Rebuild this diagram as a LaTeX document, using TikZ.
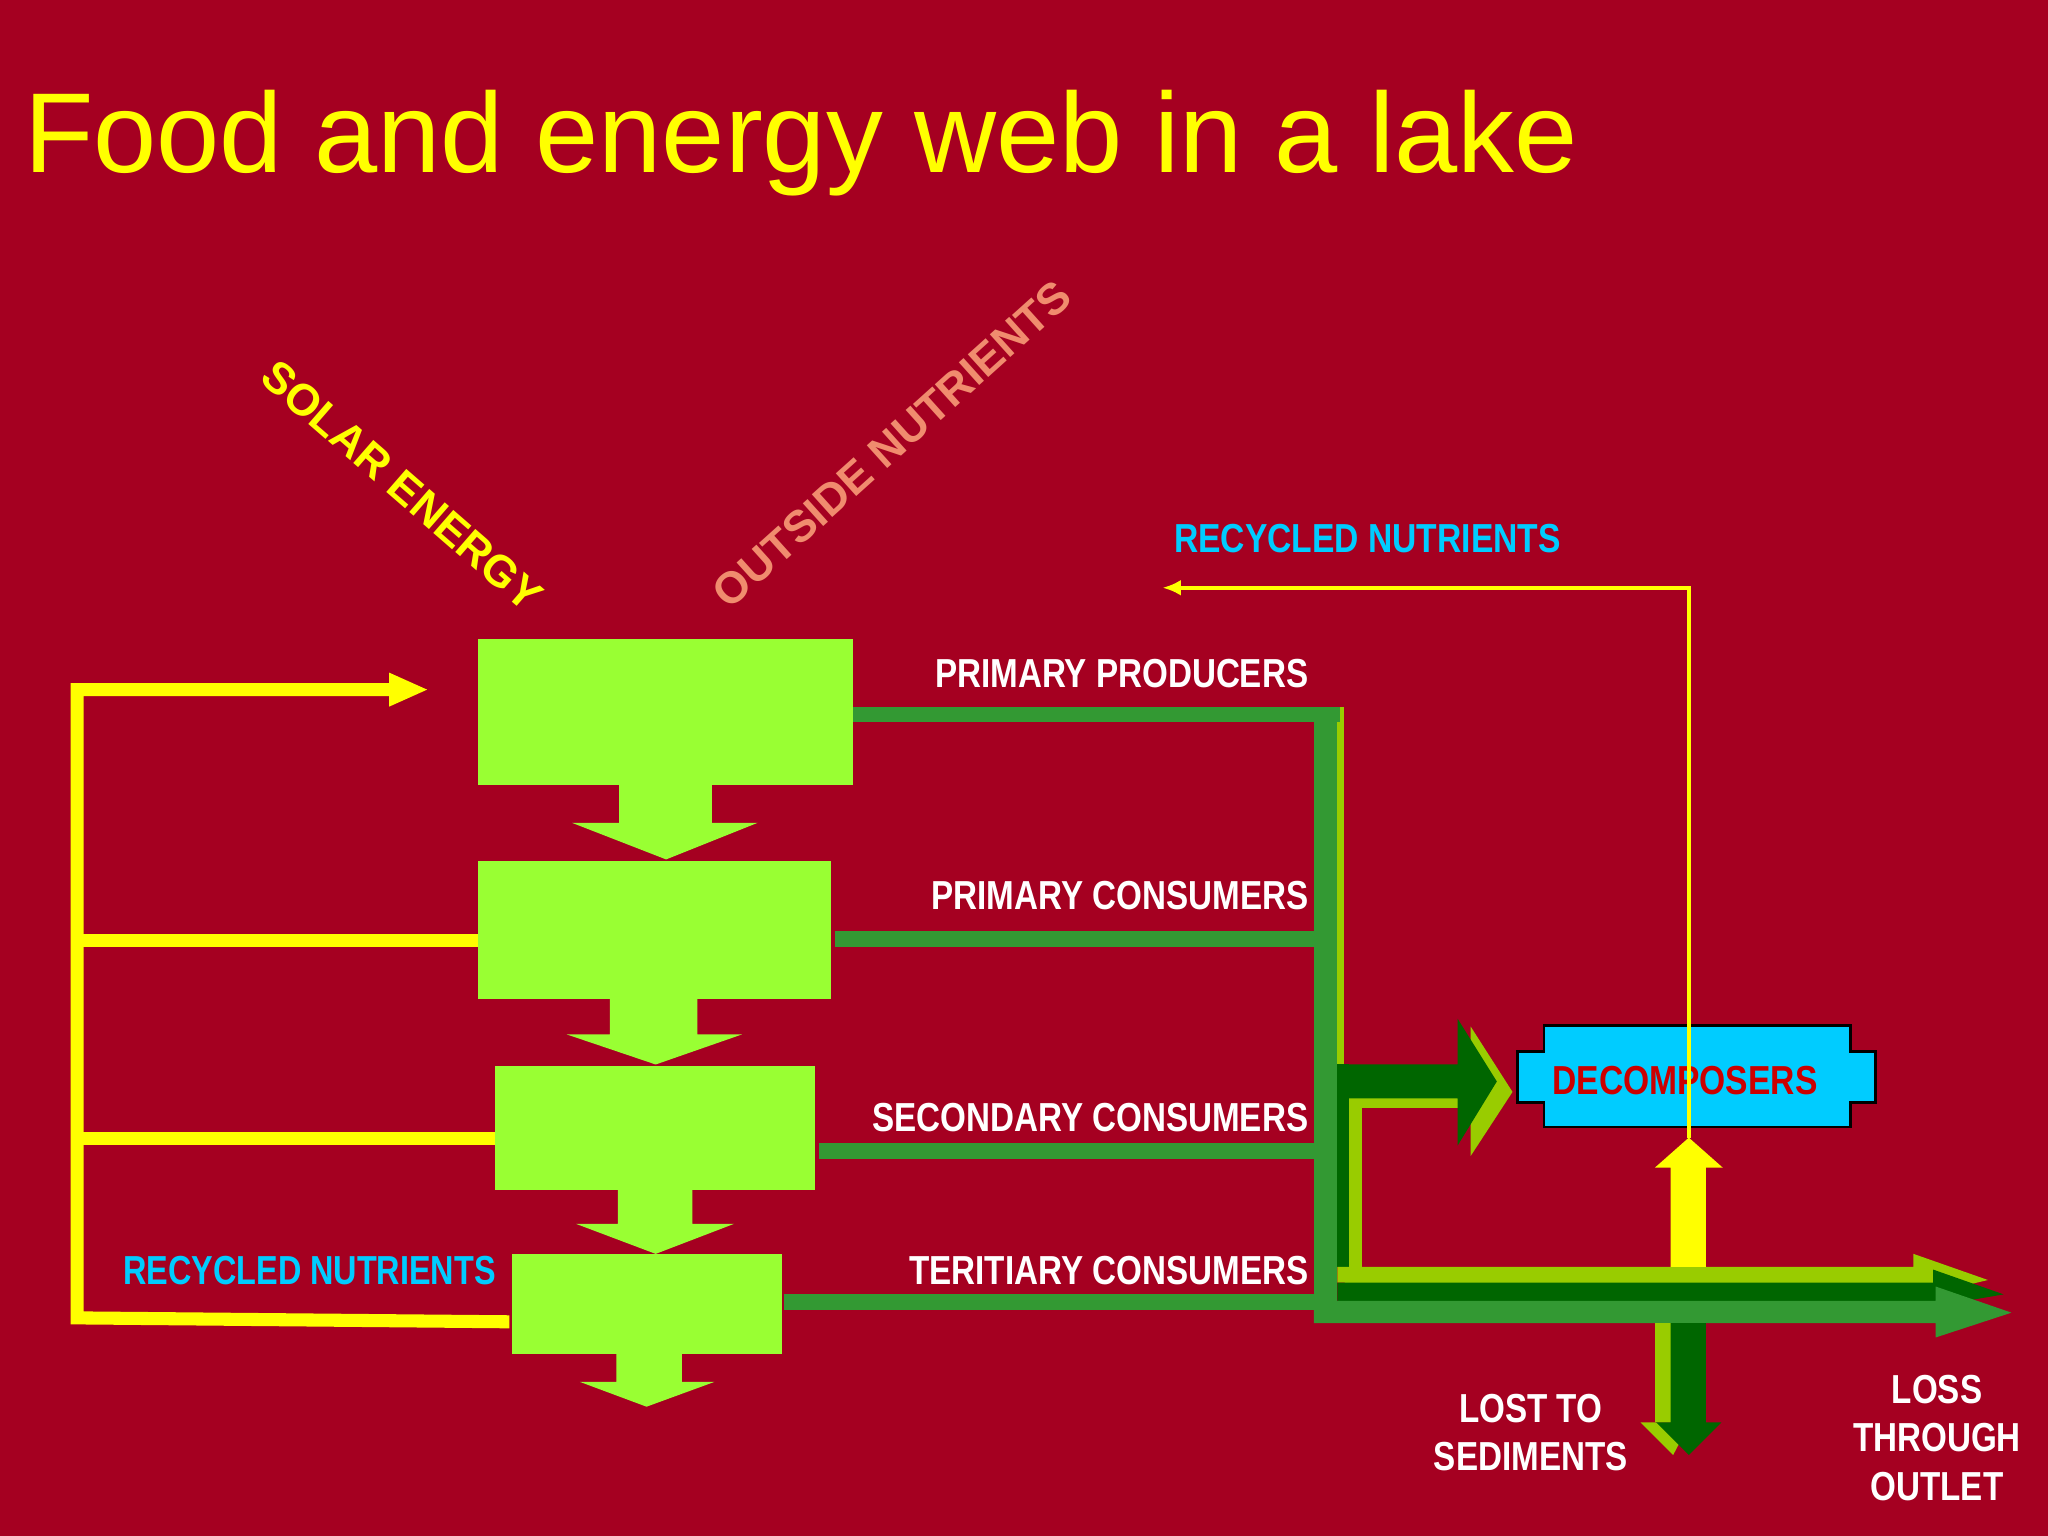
\documentclass[tikz,border=0pt]{standalone}
\usepackage{fontspec}
\setmainfont{Liberation Sans}
\usetikzlibrary{arrows.meta}
\begin{document}
\begin{tikzpicture}[x=0.5pt,y=-0.5pt,
  lbl/.style={font=\fontsize{15.5}{17}\selectfont\bfseries,text=white,inner sep=0,xscale=0.82},
  box/.style={fill=lgreen,draw=none},
  dwn/.style={fill=lgreen},
  ylw/.style={draw=yel,line width=5pt}]
\definecolor{bg}{RGB}{165,0,33}
\definecolor{lgreen}{RGB}{153,255,51}
\definecolor{mgreen}{RGB}{51,153,51}
\definecolor{dgreen}{RGB}{0,102,0}
\definecolor{ygreen}{RGB}{153,204,0}
\definecolor{yel}{RGB}{255,255,0}
\definecolor{cyanb}{RGB}{0,204,255}
\definecolor{salmon}{RGB}{240,140,110}
\fill[bg] (0,0) rectangle (1568,1176);
\useasboundingbox (0,0) rectangle (1568,1176);
\node[anchor=base west,text=yel,font=\fontsize{43.5}{48}\selectfont,inner sep=0] (title) at (18,132) {Food and energy web in a lake};
\node[text=yel,font=\fontsize{17}{19}\selectfont\bfseries,rotate=-41,inner sep=0] (solar) at (308,372) {SOLAR ENERGY};
\node[text=salmon,font=\fontsize{17}{19}\selectfont\bfseries,rotate=42,inner sep=0] (outside) at (683,340) {OUTSIDE NUTRIENTS};
% boxes
\fill[box] (366,489) rectangle (653,601);
\fill[box] (366,659) rectangle (636,765);
\fill[box] (379,816) rectangle (624,911);
\fill[box] (392,960) rectangle (599,1037);
\fill[dwn] (474,600)--(545,600)--(545,630)--(580,630)--(510,658)--(438,630)--(474,630)--cycle;
\fill[dwn] (467,764)--(534,764)--(534,792)--(568,792)--(502,815)--(434,792)--(467,792)--cycle;
\fill[dwn] (473,910)--(530,910)--(530,937)--(562,937)--(502,960)--(441,937)--(473,937)--cycle;
\fill[dwn] (472,1036)--(522,1036)--(522,1058)--(547,1058)--(495,1077)--(444,1058)--(472,1058)--cycle;
% green connectors
\fill[ygreen] (1024,541) rectangle (1029,815);
\fill[mgreen] (653,541) rectangle (1026,553);
\fill[mgreen] (639,713) rectangle (1006,725);
\fill[mgreen] (627,875) rectangle (1006,887);
\fill[mgreen] (600,991) rectangle (1006,1003);
\fill[mgreen] (1006,541) rectangle (1024,1013);
% side arrow to decomposers
\fill[ygreen] (1033,841) rectangle (1116,848);
\fill[ygreen] (1033,841) rectangle (1043,970);
\fill[dgreen] (1024,815) rectangle (1033,970);
\fill[ygreen] (1126,786)--(1158,836)--(1126,885)--cycle;
\fill[dgreen] (1024,815)--(1116,815)--(1116,780)--(1146,828)--(1116,877)--(1116,841)--(1024,841)--cycle;
% horizontal outlet arrows
\fill[ygreen] (1024,970)--(1465,970)--(1465,960)--(1522,980)--(1480,990)--(1024,982)--cycle;
\fill[dgreen] (1024,982)--(1480,982)--(1480,972)--(1534,991)--(1482,1000)--(1024,996)--cycle;
\fill[mgreen] (1006,996)--(1482,996)--(1482,985)--(1540,1005)--(1482,1024)--(1482,1013)--(1006,1013)--cycle;
% down arrow
\fill[ygreen] (1267,1013) rectangle (1279,1089);
\fill[ygreen] (1256,1089)--(1294,1089)--(1281,1114)--cycle;
\fill[dgreen] (1279,1013)--(1306,1013)--(1306,1089)--(1318,1089)--(1293,1114)--(1268,1089)--(1279,1089)--cycle;
% decomposers
\draw[fill=cyanb,draw=black,line width=1pt] (1182,785)--(1417,785)--(1417,805)--(1436,805)--(1436,844)--(1417,844)--(1417,863)--(1182,863)--(1182,844)--(1162,844)--(1162,805)--(1182,805)--cycle;
\node[text={rgb,255:red,204;green,0;blue,0},font=\fontsize{15.5}{17}\selectfont\bfseries,xscale=0.83] (decomp) at (1290,827) {DECOMPOSERS};
% yellow up arrow and recycled line
\fill[yel] (1279,970)--(1279,894)--(1267,894)--(1293,871)--(1319,894)--(1306,894)--(1306,970)--cycle;
\coordinate (rtop) at (1293,450);
\coordinate (rend) at (890,450);
\draw[yel,line width=1.5pt,-{Latex[length=7pt,width=6pt]}] (1293,871)--(rtop)--(rend);
\node[text=cyanb,font=\fontsize{15.5}{17}\selectfont\bfseries,xscale=0.83] (rec1) at (1047,412) {RECYCLED NUTRIENTS};
% left yellow loop
\draw[ylw] (310,528)--(59,528)--(59,1009)--(390,1012);
\fill[yel] (298,515)--(327,528)--(298,541)--cycle;
\draw[ylw] (59,720)--(366,720);
\draw[ylw] (59,872)--(379,872);
\node[text=cyanb,font=\fontsize{15.5}{17}\selectfont\bfseries,xscale=0.8,inner sep=0] (rec2) at (237,973) {RECYCLED NUTRIENTS};
% labels
\node[lbl,anchor=east] (pp) at (1002,516) {PRIMARY PRODUCERS};
\node[lbl,anchor=east] (pc) at (1002,686) {PRIMARY CONSUMERS};
\node[lbl,anchor=east] (sc) at (1002,856) {SECONDARY CONSUMERS};
\node[lbl,anchor=east] (tc) at (1002,973) {TERITIARY CONSUMERS};
\node[lbl,align=center,font=\fontsize{15.5}{18.5}\selectfont\bfseries] (sed) at (1172,1097) {LOST TO\\SEDIMENTS};
\node[lbl,align=center,font=\fontsize{15.5}{18.5}\selectfont\bfseries] (out) at (1483,1101) {LOSS\\THROUGH\\OUTLET};
\end{tikzpicture}
\end{document}
